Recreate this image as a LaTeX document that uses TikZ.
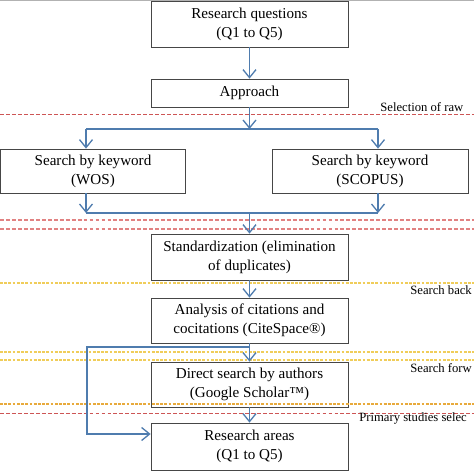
\documentclass[tikz,border=0pt]{standalone}
\usepackage{fontspec}
\setmainfont{Liberation Serif}
\usepackage{tikz}
\usetikzlibrary{arrows.meta,positioning,calc}
\definecolor{flowline}{RGB}{79,124,174}
\definecolor{boxline}{RGB}{70,70,70}
\definecolor{stageline}{RGB}{205,85,85}
\definecolor{stagelight}{RGB}{225,130,130}
\definecolor{searchline}{RGB}{240,205,90}
\definecolor{searchdark}{RGB}{232,170,60}
\newcommand{\diagramfont}{\fontsize{8.6}{10.8}\selectfont}
\newcommand{\stagefont}{\fontsize{7.2}{9}\selectfont}
\tikzset{
  stepbox/.style={draw=boxline, fill=white, align=center, inner sep=2pt,
    font=\diagramfont, minimum width=197*0.02cm, minimum height=46*0.02cm},
  arrow/.style={-{Straight Barb[length=1.6mm,width=2.6mm]}, draw=flowline, line width=0.75pt},
  plainline/.style={draw=flowline, line width=0.75pt},
  stagesep/.style={draw=stageline, dashed, dash pattern=on 2.2pt off 1.2pt, line width=0.55pt},
  stagesoft/.style={draw=stagelight, dashed, dash pattern=on 2.2pt off 1.2pt, line width=0.6pt},
  searchsep/.style={draw=searchline, dash pattern=on 1.6pt off 0.8pt, line width=0.6pt},
  stagelabel/.style={font=\stagefont, anchor=west, inner sep=0pt}
}

\begin{document}
\begin{tikzpicture}[x=0.02cm,y=0.02cm]
  \useasboundingbox (0,0) rectangle (474,474);
  \draw[gray!60, line width=1.2pt] (0,474) -- (474,474);

  % boxes
  \node[stepbox] (questions) at (249.5,450) {Research questions\\(Q1 to Q5)};
  \node[stepbox, minimum height=28*0.02cm] (approach) at (249.5,381) {Approach};
  \node[stepbox, minimum width=185*0.02cm, minimum height=44*0.02cm] (wos) at (93,303)
    {Search by keyword\\(WOS)};
  \node[stepbox, minimum width=196*0.02cm, minimum height=44*0.02cm] (scopus) at (370,303)
    {Search by keyword\\(SCOPUS)};
  \node[stepbox] (standard) at (249.5,217) {Standardization (elimination\\of duplicates)};
  \node[stepbox, minimum height=45*0.02cm] (analysis) at (249.5,153.5)
    {Analysis of citations and\\cocitations (CiteSpace\textregistered)};
  \node[stepbox, minimum height=45*0.02cm] (direct) at (249.5,89.5)
    {Direct search by authors\\(Google Scholar\texttrademark)};
  \node[stepbox, minimum height=47*0.02cm] (areas) at (249.5,27.5)
    {Research areas\\(Q1 to Q5)};

  % stage separators
  \draw[stagesep] (0,360) -- (474,360);
  \draw[stagesoft] (0,254) -- (474,254);
  \draw[stagesoft] (0,245) -- (474,245);
  \draw[searchsep] (0,191) -- (474,191);
  \draw[searchsep] (0,122) -- (474,122);
  \draw[searchsep] (0,114) -- (474,114);
  \draw[searchsep, draw=searchdark] (0,70) -- (474,70);
  \draw[stagesep] (0,61) -- (474,61);

  \node[stagelabel] (rawlabel) at (380,367) {Selection of raw};
  \node[stagelabel] (backlabel) at (410,183.5) {Search back};
  \node[stagelabel] (forlabel) at (410,106) {Search forw};
  \node[stagelabel] (primlabel) at (359,56) {Primary studies selec};

  % connectors
  \coordinate (split) at (249.5,345);
  \coordinate (splitL) at (86,345);
  \coordinate (splitR) at (378,345);
  \coordinate (merge) at (249.5,261);
  \coordinate (mergeL) at (86,261);
  \coordinate (mergeR) at (378,261);
  \coordinate (back) at (249.5,127);
  \coordinate (backL) at (87,127);

  \draw[arrow] (questions) -- (approach);
  \draw[arrow] (approach) -- (split);
  \draw[plainline] (splitL) -- (splitR);
  \draw[arrow] (splitL) -- (splitL |- wos.north);
  \draw[arrow] (splitR) -- (splitR |- scopus.north);
  \draw[arrow] (wos.south -| mergeL) -- (mergeL);
  \draw[arrow] (scopus.south -| mergeR) -- (mergeR);
  \draw[plainline] (mergeL) -- (mergeR);
  \draw[arrow] (merge) -- (standard);
  \draw[arrow] (standard) -- (analysis);
  \draw[arrow] (analysis) -- (direct);
  \draw[arrow] (direct) -- (areas);
  \draw[arrow] (back) -- (backL) |- ([yshift=12.5*0.02cm]areas.west);
\end{tikzpicture}
\end{document}
